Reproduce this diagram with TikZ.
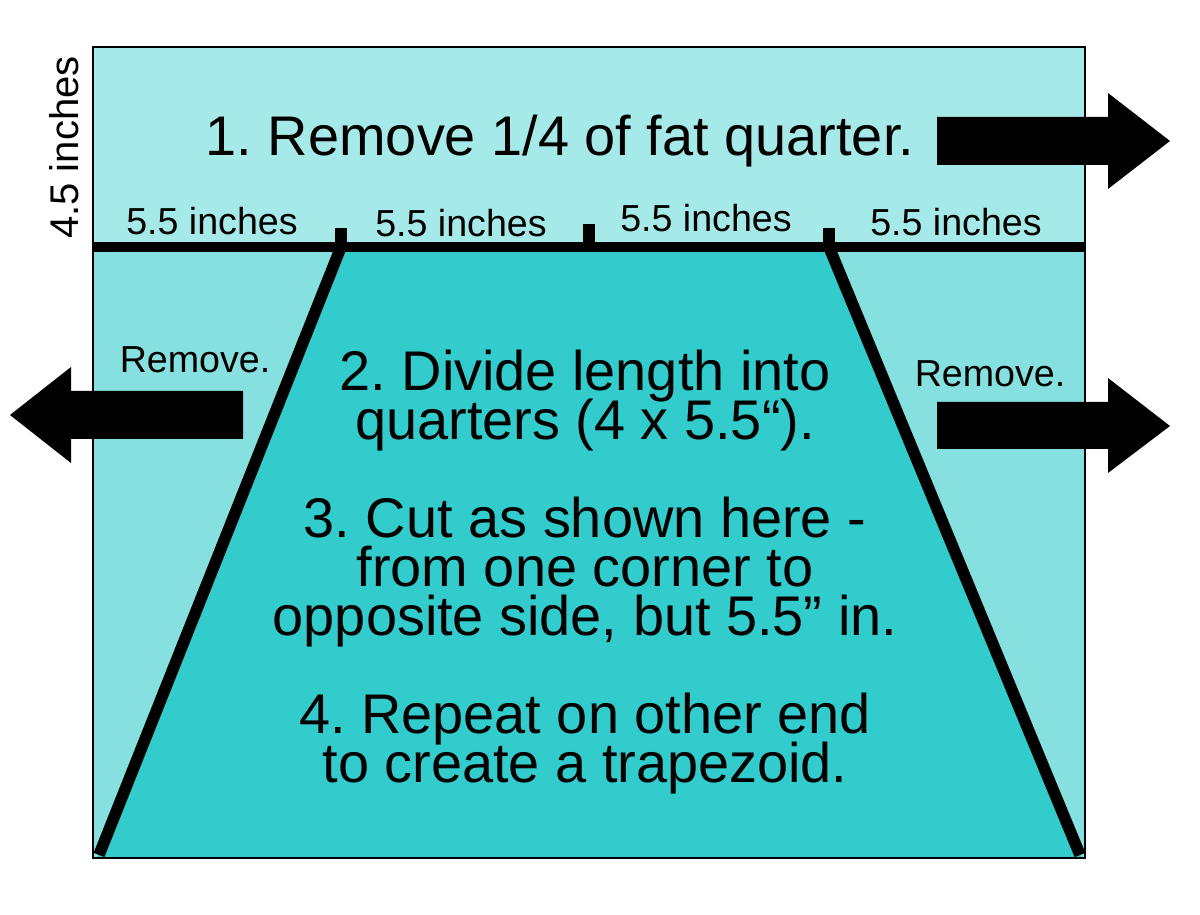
\documentclass[tikz,border=0pt]{standalone}
\usepackage{fontspec}
\setmainfont{Liberation Sans}
\usepackage{xcolor}
\usepackage{tikz}
\usetikzlibrary{positioning}
\definecolor{topcyan}{HTML}{A6E9E9}
\definecolor{sidecyan}{HTML}{86E0E0}
\definecolor{trapcyan}{HTML}{33CCCC}
\frenchspacing
\tikzset{
  cutline/.style ={line width=3.3pt},
  foldline/.style={line width=3.1pt},
  tickmark/.style={line width=3.3pt},
  border/.style  ={line width=0.6pt},
  bigtext/.style ={anchor=base, inner sep=0pt, font=\fontsize{15.9}{14}\selectfont},
  smalltext/.style={anchor=base, inner sep=0pt, font=\fontsize{10.7}{12}\selectfont}
}

\begin{document}
\begin{tikzpicture}
  \useasboundingbox (0,0) rectangle (12,9.15);

  % fabric pieces
  \fill[topcyan]  (0.93,6.68) rectangle (10.85,8.68);
  \fill[sidecyan] (0.93,0.57) rectangle (10.85,6.68);
  \fill[trapcyan] (3.41,6.68) -- (8.29,6.68) -- (10.82,0.57) -- (0.97,0.57) -- cycle;
  \draw[border] (0.93,0.57) rectangle (10.85,8.68);

  % fold line with quarter marks
  \draw[foldline] (0.93,6.68) -- (10.85,6.68);
  \foreach \x/\t in {3.41/6.87, 5.89/6.91, 8.29/6.87}
    \draw[tickmark] (\x,6.68) -- (\x,\t);

  % cuts
  \draw[cutline] (3.41,6.68) -- (0.99,0.60);
  \draw[cutline] (8.29,6.68) -- (10.80,0.60);

  % labels
  \node[smalltext, rotate=90, font=\fontsize{11.4}{13}\selectfont] (height) at (0.78,7.675) {4.5 inches};
  \foreach \x/\y [count=\i] in {2.12/6.80, 4.61/6.78, 7.06/6.83, 9.56/6.79}
    \node[smalltext] (w\i) at (\x,\y) {5.5 inches};
  \node[smalltext] (remL) at (1.95,5.42) {Remove.};
  \node[smalltext] (remR) at (9.90,5.28) {Remove.};

  \node[bigtext] (step1) at (5.60,7.59) {1. Remove 1/4 of fat quarter.};
  \foreach \txt/\y [count=\i] in {
      {2. Divide length into}/5.24,
      {quarters (4 x 5.5“).}/4.75,
      {3. Cut as shown here -}/3.77,
      {from one corner to}/3.28,
      {opposite side, but 5.5” in.}/2.79,
      {4. Repeat on other end}/1.81,
      {to create a trapezoid.}/1.32}
    \node[bigtext] (line\i) at (5.85,\y) {\txt};

  % arrows
  \fill (9.37,7.98) -- (11.08,7.98) -- (11.08,8.22) -- (11.70,7.74)
        -- (11.08,7.26) -- (11.08,7.50) -- (9.37,7.50) -- cycle;
  \fill (9.37,5.13) -- (11.08,5.13) -- (11.08,5.37) -- (11.70,4.89)
        -- (11.08,4.42) -- (11.08,4.66) -- (9.37,4.66) -- cycle;
  \fill (2.43,5.24) -- (0.71,5.24) -- (0.71,5.48) -- (0.10,5.00)
        -- (0.71,4.52) -- (0.71,4.76) -- (2.43,4.76) -- cycle;
\end{tikzpicture}
\end{document}
